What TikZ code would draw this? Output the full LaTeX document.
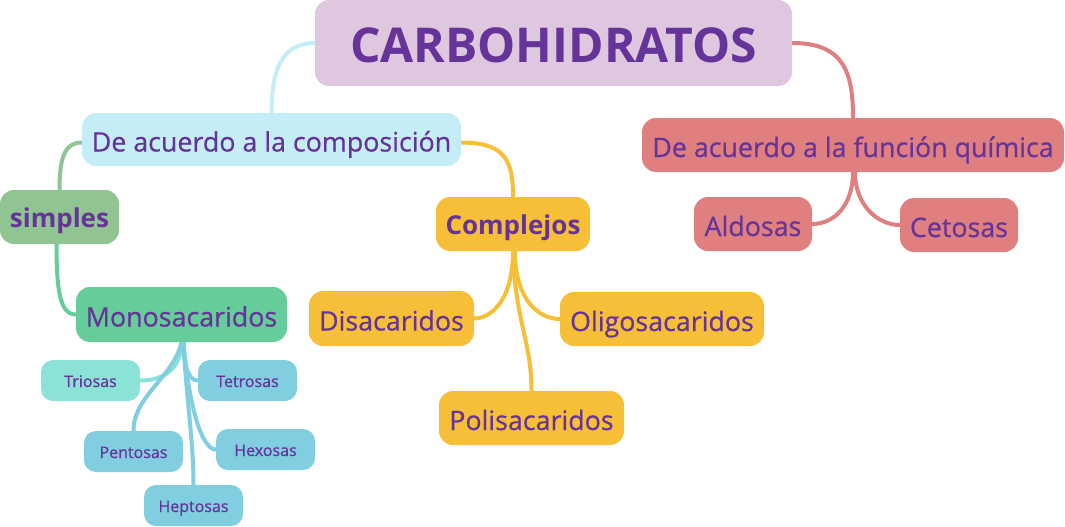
\documentclass[tikz,border=0pt]{standalone}
\usepackage{fontspec}
\setmainfont{Open Sans}
\newfontfamily\semi[FakeBold=0.6]{Open Sans}
\usetikzlibrary{backgrounds}
\definecolor{txt}{HTML}{663399}
\definecolor{cpur}{HTML}{DFC7E0}
\definecolor{cblu}{HTML}{C5EDF6}
\definecolor{cgrn}{HTML}{90C593}
\definecolor{cmon}{HTML}{66CC99}
\definecolor{ctri}{HTML}{8AE3D6}
\definecolor{ccya}{HTML}{80CEE0}
\definecolor{cyel}{HTML}{F7BF38}
\definecolor{cred}{HTML}{DF7F7F}
\tikzset{
  box/.style={rounded corners=14pt, inner sep=0pt, text=txt, text height=24pt, text depth=0pt, font=\semi\fontsize{26.8}{30}\selectfont},
  bbox/.style={box, text height=21pt, font=\fontsize{26}{30}\selectfont\bfseries},
  small/.style={box, rounded corners=12pt, text height=13pt, font=\semi\fontsize{16}{19}\selectfont},
  link/.style={line width=4pt, line cap=round},
}
\begin{document}
\begin{tikzpicture}[x=1pt,y=-1pt]
\useasboundingbox (0,0) rectangle (1065,527);
% nodes
\node[box, fill=cpur, minimum width=477pt, minimum height=86pt, text height=38.6pt, font=\fontsize{48}{54}\selectfont\bfseries] (carb) at (553.5,43) {CARBOHIDRATOS};
\node[box, fill=cblu, minimum width=379pt, minimum height=53pt] (comp) at (271.5,139.5) {De acuerdo a la composición};
\node[box, fill=cred, minimum width=422pt, minimum height=54pt] (func) at (853,145) {De acuerdo a la función química};
\node[bbox, fill=cgrn, minimum width=119pt, minimum height=54pt] (simp) at (59.5,217) {simples};
\node[box, fill=cmon, minimum width=211pt, minimum height=55pt] (mono) at (181.5,314.5) {Monosacaridos};
\node[small, fill=ctri, minimum width=99pt, minimum height=41pt] (trio) at (90.5,380.5) {Triosas};
\node[small, fill=ccya, minimum width=99pt, minimum height=41pt] (tetr) at (247.5,380.5) {Tetrosas};
\node[small, fill=ccya, minimum width=99pt, minimum height=41pt] (pent) at (133.5,451.5) {Pentosas};
\node[small, fill=ccya, minimum width=99pt, minimum height=41pt] (hexo) at (265.5,449.5) {Hexosas};
\node[small, fill=ccya, minimum width=99pt, minimum height=41pt] (hept) at (193.5,505.5) {Heptosas};
\node[bbox, fill=cyel, minimum width=154pt, minimum height=54pt] (comj) at (513,224) {Complejos};
\node[box, fill=cyel, minimum width=165pt, minimum height=55pt] (disa) at (391.5,318.5) {Disacaridos};
\node[box, fill=cyel, minimum width=204pt, minimum height=54pt] (olig) at (662,319) {Oligosacaridos};
\node[box, fill=cyel, minimum width=185pt, minimum height=54pt] (poli) at (531.5,418) {Polisacaridos};
\node[box, fill=cred, minimum width=118pt, minimum height=54pt] (aldo) at (753,224) {Aldosas};
\node[box, fill=cred, minimum width=118pt, minimum height=54pt] (ceto) at (959,225) {Cetosas};
% connectors
\begin{pgfonlayer}{background}
\draw[link, cblu] (carb.west) .. controls +(-32,0) and +(0,-45) .. (comp.north);
\draw[link, cred] (carb.east) .. controls +(52,0) and +(0,-45) .. (func.north);
\draw[link, cgrn] ([yshift=-3pt]comp.west) .. controls +(-18,0) and +(0,-30) .. (simp.north);
\draw[link, cyel] ([yshift=-3pt]comp.east) .. controls +(45,0) and +(0,-35) .. (comj.north);
\draw[link, cmon] ([xshift=-3pt]simp.south) .. controls +(0,50) and +(-15,0) .. (mono.west);
\draw[link, ctri] (mono.south) .. controls +(0,28) and +(22,0) .. (trio.east);
\draw[link, ccya] ([xshift=1pt]mono.south) .. controls +(2,28) and +(-8,0) .. (tetr.west);
\draw[link, ccya] (mono.south) .. controls +(-8,35) and +(0,-35) .. (pent.north);
\draw[link, ccya] ([xshift=2pt]mono.south) .. controls +(5,60) and +(-15,0) .. (hexo.west);
\draw[link, ccya] ([xshift=2pt]mono.south) .. controls +(3,60) and +(0,-45) .. (hept.north);
\draw[link, cyel] (comj.south) .. controls +(0,50) and +(16,0) .. (disa.east);
\draw[link, cyel] ([xshift=2pt]comj.south) .. controls +(0,50) and +(-20,0) .. (olig.west);
\draw[link, cyel] (comj.south) .. controls +(2,70) and +(0,-50) .. (poli.north);
\draw[link, cred] (func.south) .. controls +(0,33) and +(22,0) .. (aldo.east);
\draw[link, cred] ([xshift=2pt]func.south) .. controls +(0,33) and +(-22,0) .. (ceto.west);
\end{pgfonlayer}
\end{tikzpicture}
\end{document}
